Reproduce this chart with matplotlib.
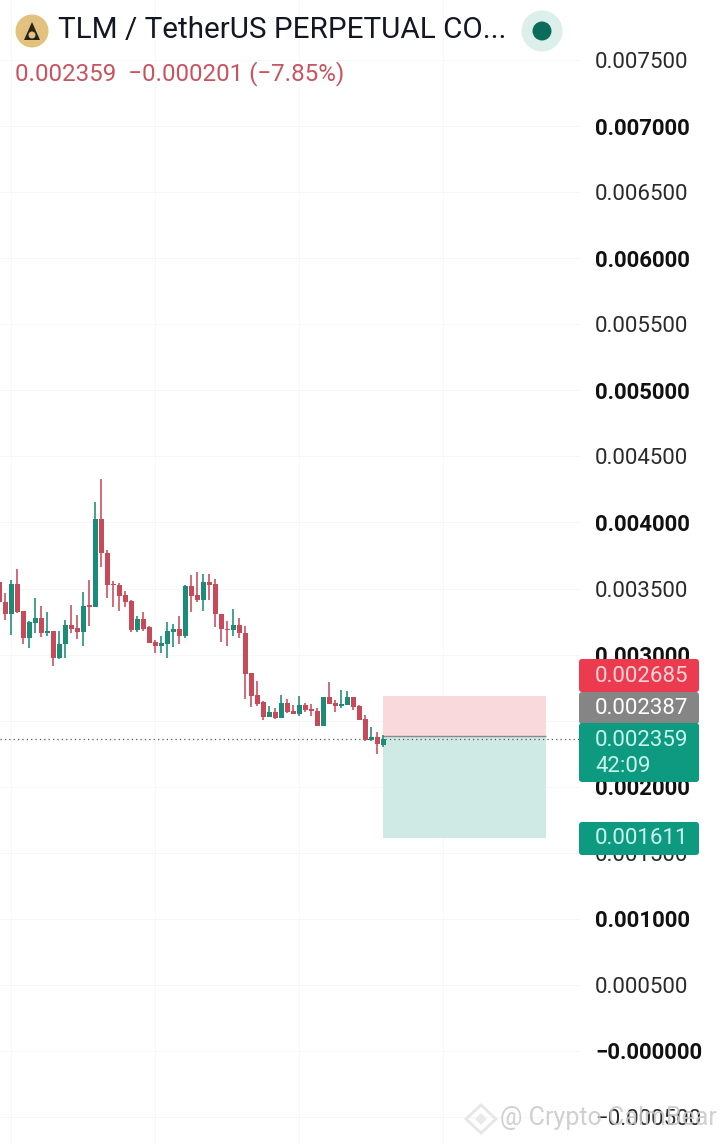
import matplotlib
matplotlib.use("Agg")
import matplotlib.pyplot as plt
from matplotlib.patches import Circle, FancyBboxPatch, Polygon
from matplotlib.transforms import IdentityTransform

plt.rcParams['font.family'] = ['Roboto', 'DejaVu Sans']

# precos em 1e-6 USDT
opens = [3550, 3398, 3310, 3534, 3332, 3123, 3241, 3277, 3166, 3179, 2972, 3083, 3224, 3201, 3173, 3373,
         3358, 4026, 3769, 3534, 3527, 3451, 3406, 3186, 3270, 3207, 3095, 3063, 3083, 3173, 3194, 3143,
         3519, 3451, 3413, 3552, 3534, 3307, 3196, 3189, 3224, 3166, 2859, 2697, 2639, 2530, 2566, 2523,
         2636, 2575, 2548, 2621, 2588, 2573, 2462, 2679, 2636, 2613, 2621, 2679, 2611, 2513, 2356, 2376, 2318]
closes = [3398, 3310, 3534, 3325, 3123, 3249, 3277, 3166, 3179, 2977, 3080, 3224, 3196, 3173, 3370, 3363,
          4026, 3767, 3529, 3527, 3446, 3400, 3186, 3270, 3194, 3090, 3063, 3088, 3179, 3194, 3143, 3521,
          3446, 3413, 3550, 3529, 3305, 3192, 3189, 3224, 3166, 2851, 2687, 2626, 2526, 2566, 2523, 2636,
          2566, 2550, 2621, 2581, 2573, 2462, 2679, 2628, 2613, 2626, 2679, 2604, 2507, 2356, 2376, 2326, 2359]
highs = [3552, 3469, 3565, 3650, 3332, 3257, 3431, 3370, 3325, 3179, 3179, 3262, 3378, 3302, 3474, 3567,
         4157, 4331, 3792, 3557, 3542, 3484, 3413, 3292, 3325, 3216, 3111, 3141, 3247, 3232, 3290, 3529,
         3605, 3625, 3610, 3610, 3572, 3307, 3254, 3347, 3277, 3216, 2863, 2803, 2649, 2611, 2596, 2694,
         2666, 2621, 2684, 2636, 2626, 2596, 2681, 2795, 2654, 2734, 2727, 2681, 2621, 2541, 2454, 2414, 2392]
lows = [3353, 3262, 3148, 3317, 3080, 3052, 3164, 3136, 3143, 2916, 2967, 2972, 3166, 3118, 3067, 3216,
        3358, 3661, 3428, 3360, 3330, 3363, 3173, 3173, 3179, 3090, 3014, 3014, 2977, 3060, 3080, 3126,
        3322, 3398, 3332, 3413, 3211, 3098, 3065, 3141, 3123, 2666, 2601, 2611, 2505, 2526, 2510, 2518,
        2560, 2548, 2535, 2568, 2535, 2460, 2460, 2626, 2566, 2594, 2619, 2581, 2505, 2348, 2348, 2245, 2301]

tick_values = [7500, 7000, 6500, 6000, 5500, 5000, 4500, 4000, 3500, 3000, 2500, 2000, 1500, 1000, 500, 0, -500]
tick_labels = ['0.007500', '0.007000', '0.006500', '0.006000', '0.005500', '0.005000', '0.004500', '0.004000',
               '0.003500', '0.003000', '0.002500', '0.002000', '0.001500', '0.001000', '0.000500',
               '\u22120.000000', '\u22120.000500']
bold_labels = ['0.007000', '0.006000', '0.005000', '0.004000', '0.003000', '0.002000', '0.001000', '\u22120.000000']
grid_x = [2, 26, 50, 74]

target_price = 2685
entry_price = 2387
stop_price = 1611
last_price = 2359
box_start = 63.94
box_end = 91.1

RED = '#C84A59'
GREEN = '#1B8C77'

fig = plt.figure(figsize=(7.2, 11.44), dpi=100)
ax = fig.add_axes([0, 0, 580 / 720, 1])
ax.set_xlim(0.11, 96.78)
ax.set_ylim(-704, 7954)
for s in ax.spines.values():
    s.set_visible(False)

ax.hlines(tick_values, 0.11, 96.78, color='#F6F6F6', lw=0.7, zorder=0)
ax.vlines(grid_x, -704, 7954, color='#F7F7F7', lw=0.7, zorder=0)

# caixa de posicao
ax.fill_between([box_start, box_end], entry_price, target_price, color='#FAD9DD', lw=0, zorder=1)
ax.fill_between([box_start, box_end], stop_price, entry_price, color='#CFEAE5', lw=0, zorder=1)
ax.hlines(entry_price, box_start, box_end, color='#8A8A8A', lw=1, zorder=2)
ax.axhline(last_price, color='#555555', lw=0.9, ls=(0, (1, 2.5)), zorder=2)

# candles
idx = list(range(len(opens)))
colors = [GREEN if c >= o else RED for o, c in zip(opens, closes)]
ax.vlines(idx, lows, highs, colors=colors, lw=1.15, zorder=3)
ax.bar(idx, [abs(c - o) for o, c in zip(opens, closes)], bottom=[min(o, c) for o, c in zip(opens, closes)],
       width=0.92, color=colors, lw=0, zorder=4)

ax.set_xticks([])
ax.yaxis.tick_right()
ax.set_yticks(tick_values)
ax.set_yticklabels(tick_labels)
ax.tick_params(axis='y', length=0, pad=10.8, labelsize=16, labelcolor='#2A2A2A')
for lab in ax.get_yticklabels():
    if lab.get_text() in bold_labels:
        lab.set_fontweight('bold')
        lab.set_color('#111111')


def px_text(x, y, s, **kw):
    fig.text(x / 720, 1 - y / 1144, s, va='center', zorder=7, **kw)


def px_patch(p):
    p.set_transform(IdentityTransform())
    p.set_zorder(6)
    fig.add_artist(p)


def tag(top, bottom, color):
    px_patch(FancyBboxPatch((581, 1144 - bottom + 2), 116, bottom - top - 4, boxstyle='round,pad=2,rounding_size=3',
                            fc=color, ec='none'))


# etiquetas de preco
tag(659, 692, '#EC3B4E')
tag(692, 724, '#858585')
tag(723, 782, '#0E9981')
tag(822, 855, '#0E9981')
px_text(595, 676, '0.002685', fontsize=16, color='#FBD5DA')
px_text(595, 708, '0.002387', fontsize=16, color='#FFFFFF')
px_text(595, 740, '0.002359', fontsize=16, color='#C9F5EA')
px_text(595, 766, '42:09', fontsize=16, color='#C9F5EA')
px_text(595, 839, '0.001611', fontsize=16, color='#C9F5EA')

# cabecalho
px_patch(Circle((32, 1144 - 31), 16.5, fc='#E3C27F', ec='none'))
px_patch(Polygon([(32, 1144 - 22), (24, 1144 - 40), (40, 1144 - 40)], fc='#2B2416', ec='none'))
px_patch(Circle((32, 1144 - 35), 3.5, fc='#E3C27F', ec='none'))
px_text(58, 30, 'TLM / TetherUS PERPETUAL CO...', fontsize=21.3, color='#131722')
px_text(15, 74, '0.002359  \u22120.000201 (\u22127.85%)', fontsize=17.4, color='#C8545F')
px_patch(Circle((542, 1144 - 31), 20.5, fc='#DDEFEB', ec='none'))
px_patch(Circle((542, 1144 - 31), 9.5, fc='#0C6B5B', ec='none'))

# marca d'agua
px_patch(Polygon([(481, 1144 - 1105), (496, 1144 - 1119), (481, 1144 - 1133), (466, 1144 - 1119)],
                 fc='none', ec='#E6E6E6', lw=2))
px_patch(Polygon([(481, 1144 - 1113), (487, 1144 - 1119), (481, 1144 - 1125), (475, 1144 - 1119)],
                 fc='#EAEAEA', ec='none'))
px_text(500, 1118, '@ Crypto CalmBear', fontsize=18, color='#C8C8C8', alpha=0.85)

fig.savefig('out.png', dpi=100)
plt.close(fig)
